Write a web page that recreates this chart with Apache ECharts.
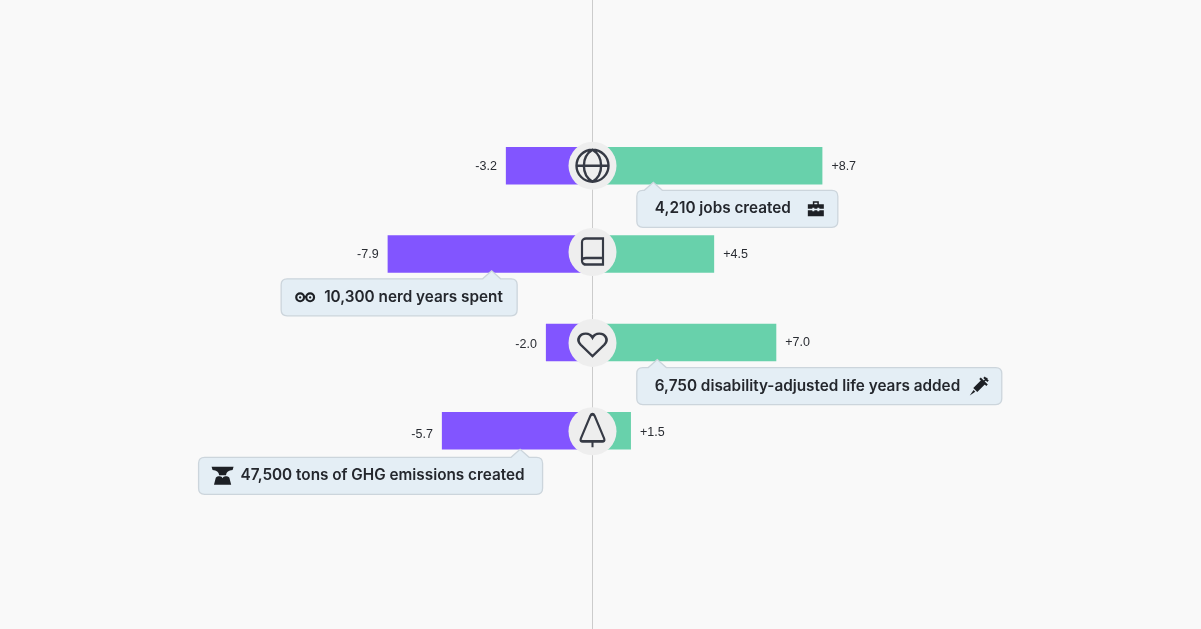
<!DOCTYPE html>
<html>
<head>
<meta charset="utf-8">
<style>
html, body { margin: 0; padding: 0; background: #f9f9f9; }
#main { width: 1201px; height: 629px; }
</style>
<script src="https://cdn.jsdelivr.net/npm/echarts@6/dist/echarts.min.js"></script>
</head>
<body>
<div id="main"></div>
<script>
var rows = ['global', 'knowledge', 'health', 'environment'];
// bar lengths, printed labels kept as they are written
var costs = [-3.29, -7.78, -1.77, -5.72];
var gains = [8.73, 4.62, 6.98, 1.46];
var costLabels = ['-3.2', '-7.9', '-2.0', '-5.7'];
var gainLabels = ['+8.7', '+4.5', '+7.0', '+1.5'];
var notes = ['4,210 jobs created', '10,300 nerd years spent', '6,750 disability-adjusted life years added', '47,500 tons of GHG emissions created'];
var noteAnchors = [2.31, -3.83, 2.46, -2.75];

// the rows in the picture are not quite evenly spaced, so small nudges in px
var costLabelDy = [1, 0.5, 2, 3.5];
var gainLabelDy = [1, 0.5, 0, 1.5];
var discDy = [0, -2, 0.5, 0.5];

var ink = '#363a45';
var labelFont = '"Liberation Sans", Arial, sans-serif';
var rowIcons = [
    {path: 'path://M16 0A16 16 0 1 1 16 32A16 16 0 1 1 16 0ZM16 0C4.5 7 4.5 25 16 32C27.5 25 27.5 7 16 0ZM0 16H32', size: [32, 32], dy: 0},
    {path: 'path://M4 0H21V26H4C2 26 0 24.5 0 22.5V3.5C0 1.5 2 0 4 0ZM0 22.5C0 20.5 2 19.5 4 19.5H21', size: [21, 26], dy: -2.5},
    {path: 'path://M14 22.5L2.5 11C-2 6 1.5 0 7.5 0C10.5 0 12.7 1.6 14 4C15.3 1.6 17.5 0 20.5 0C26.5 0 30 6 25.5 11Z', size: [28, 22.5], dy: 2.5},
    {path: 'path://M12 0C12.9 0 13.7 .7 14.2 1.8L23.7 25C24.3 26.5 23.5 27.5 21.8 27.5H2.2C.5 27.5 -.3 26.5 .3 25L9.8 1.8C10.3 .7 11.1 0 12 0ZM12 27.5V33.5', size: [24, 33], dy: 0}
];
// callout layout, offsets in px from the pointer tip
var boxLayout = [
    {dx: -16.5, dy: 16.6, w: 201, textX: 18, icon: 'case', iconX: 171, iconW: 16, iconH: 15},
    {dx: -210.5, dy: 16.8, w: 236, textX: 43, icon: 'glasses', iconX: 14, iconW: 20, iconH: 10},
    {dx: -20.5, dy: 17.2, w: 365, textX: 18, icon: 'syringe', iconX: 333, iconW: 19, iconH: 19},
    {dx: -321.5, dy: 18.6, w: 344, textX: 42, icon: 'anvil', iconX: 13, iconW: 22, iconH: 18}
];
var notePaths = {
    case: 'M5 3V0H11V3H16V7.5H11.5V6.5H9.5V7.5H6.5V6.5H4.5V7.5H0V3ZM6.5 1.5V3H9.5V1.5ZM0 9H4.5V10H6.5V9H9.5V10H11.5V9H16V15H0Z',
    glasses: 'M5 0A5 5 0 1 1 5 10A5 5 0 1 1 5 0ZM5 2.2A2.8 2.8 0 1 0 5 7.8A2.8 2.8 0 1 0 5 2.2ZM5 3.8A1.2 1.2 0 1 1 5 6.2A1.2 1.2 0 1 1 5 3.8ZM15 0A5 5 0 1 1 15 10A5 5 0 1 1 15 0ZM15 2.2A2.8 2.8 0 1 0 15 7.8A2.8 2.8 0 1 0 15 2.2ZM15 3.8A1.2 1.2 0 1 1 15 6.2A1.2 1.2 0 1 1 15 3.8ZM9 3.6H11V5.4H9Z',
    syringe: 'M3.5 11.5L11 4L15 8L7.5 15.5ZM0 19L3.8 13.5L5.5 15.2ZM9.5 2.5L11 1L18 8L16.5 9.5ZM13 5L17 1L18 2L14 6ZM13.5 1.5L15 0L19 4L17.5 5.5Z',
    anvil: 'M0 0H22L21 3.2C17 3.6 14.8 5.2 14.4 8.4H7.6C7.2 5.2 5 3.6 1 3.2ZM4.2 11C5 9.6 6.5 9.4 8 9.4C9.6 9.4 10.6 10.2 11 11.4C11.4 10.2 12.4 9.4 14 9.4C15.5 9.4 17 9.6 17.8 11L19.6 18H2.4Z'
};

var myChart = echarts.init(document.getElementById('main'));

function renderCallout(params, api) {
    var i = params.dataIndex;
    var box = boxLayout[i];
    var p = api.coord([api.value(0), rows[i]]);
    var tip = p[0];
    var apex = p[1] + box.dy;
    var top = apex + 8;
    var h = 37;
    var r = 6;
    var left = tip + box.dx;
    var right = left + box.w;
    var outline = 'M' + (left + r) + ' ' + top +
        'H' + (tip - 9) + 'L' + tip + ' ' + apex + 'L' + (tip + 9) + ' ' + top +
        'H' + (right - r) + 'Q' + right + ' ' + top + ' ' + right + ' ' + (top + r) +
        'V' + (top + h - r) + 'Q' + right + ' ' + (top + h) + ' ' + (right - r) + ' ' + (top + h) +
        'H' + (left + r) + 'Q' + left + ' ' + (top + h) + ' ' + left + ' ' + (top + h - r) +
        'V' + (top + r) + 'Q' + left + ' ' + top + ' ' + (left + r) + ' ' + top + 'Z';
    return {
        type: 'group',
        children: [
            {type: 'path', shape: {pathData: outline}, style: {fill: '#e4eef5', stroke: '#ccd5dc', lineWidth: 1.3}},
            {
                type: 'text',
                style: {
                    x: left + box.textX, y: top + h / 2,
                    text: notes[i],
                    fill: '#24272d',
                    font: '600 15.3px Inter, sans-serif',
                    verticalAlign: 'middle'
                }
            },
            {
                type: 'path',
                shape: {
                    pathData: notePaths[box.icon],
                    x: left + box.iconX, y: top + (h - box.iconH) / 2,
                    width: box.iconW, height: box.iconH
                },
                style: {fill: '#1d2025'}
            }
        ]
    };
}

var option = {
    backgroundColor: '#f9f9f9',
    animation: false,
    grid: {left: 0, width: 1185, top: 121.5, height: 353.4},
    xAxis: {type: 'value', min: -22.5, max: 22.5, show: false},
    yAxis: {type: 'category', data: rows, inverse: true, show: false},
    tooltip: {show: false},
    series: [
        {
            // centre line runs the whole height of the page
            type: 'custom',
            silent: true,
            z: 1,
            data: [[0, rows[0]]],
            renderItem: function (params, api) {
                var p = api.coord([0, rows[0]]);
                return {
                    type: 'line',
                    shape: {x1: p[0], y1: 0, x2: p[0], y2: api.getHeight()},
                    style: {stroke: '#cccccc', lineWidth: 1}
                };
            }
        },
        {
            name: 'cost',
            type: 'bar',
            stack: 'total',
            barWidth: 37.5,
            z: 2,
            data: costs.map(function (v, i) {
                return {value: v, label: {offset: [0, costLabelDy[i]]}};
            }),
            itemStyle: {color: '#8255ff'},
            label: {
                show: true, position: 'left', distance: 9,
                color: '#2a2d33', fontSize: 12.5, fontFamily: labelFont,
                formatter: function (p) { return costLabels[p.dataIndex]; }
            }
        },
        {
            name: 'gain',
            type: 'bar',
            stack: 'total',
            barWidth: 37.5,
            z: 2,
            data: gains.map(function (v, i) {
                return {value: v, label: {offset: [0, gainLabelDy[i]]}};
            }),
            itemStyle: {color: '#68d1ab'},
            label: {
                show: true, position: 'right', distance: 9,
                color: '#2a2d33', fontSize: 12.5, fontFamily: labelFont,
                formatter: function (p) { return gainLabels[p.dataIndex]; }
            }
        },
        {
            type: 'scatter',
            silent: true,
            z: 3,
            symbolSize: 48,
            itemStyle: {color: '#eeeeee', opacity: 1},
            data: rows.map(function (r, i) {
                return {value: [0, r], symbolOffset: [0, discDy[i]]};
            })
        },
        {
            type: 'scatter',
            silent: true,
            z: 4,
            itemStyle: {color: 'none', borderColor: ink, borderWidth: 2.4, opacity: 1},
            data: rows.map(function (r, i) {
                return {
                    value: [0, r],
                    symbol: rowIcons[i].path,
                    symbolSize: rowIcons[i].size,
                    symbolOffset: [0, rowIcons[i].dy]
                };
            })
        },
        {
            type: 'custom',
            silent: true,
            z: 5,
            data: noteAnchors.map(function (v, i) { return [v, rows[i]]; }),
            renderItem: renderCallout
        }
    ]
};

myChart.setOption(option);
</script>
</body>
</html>
